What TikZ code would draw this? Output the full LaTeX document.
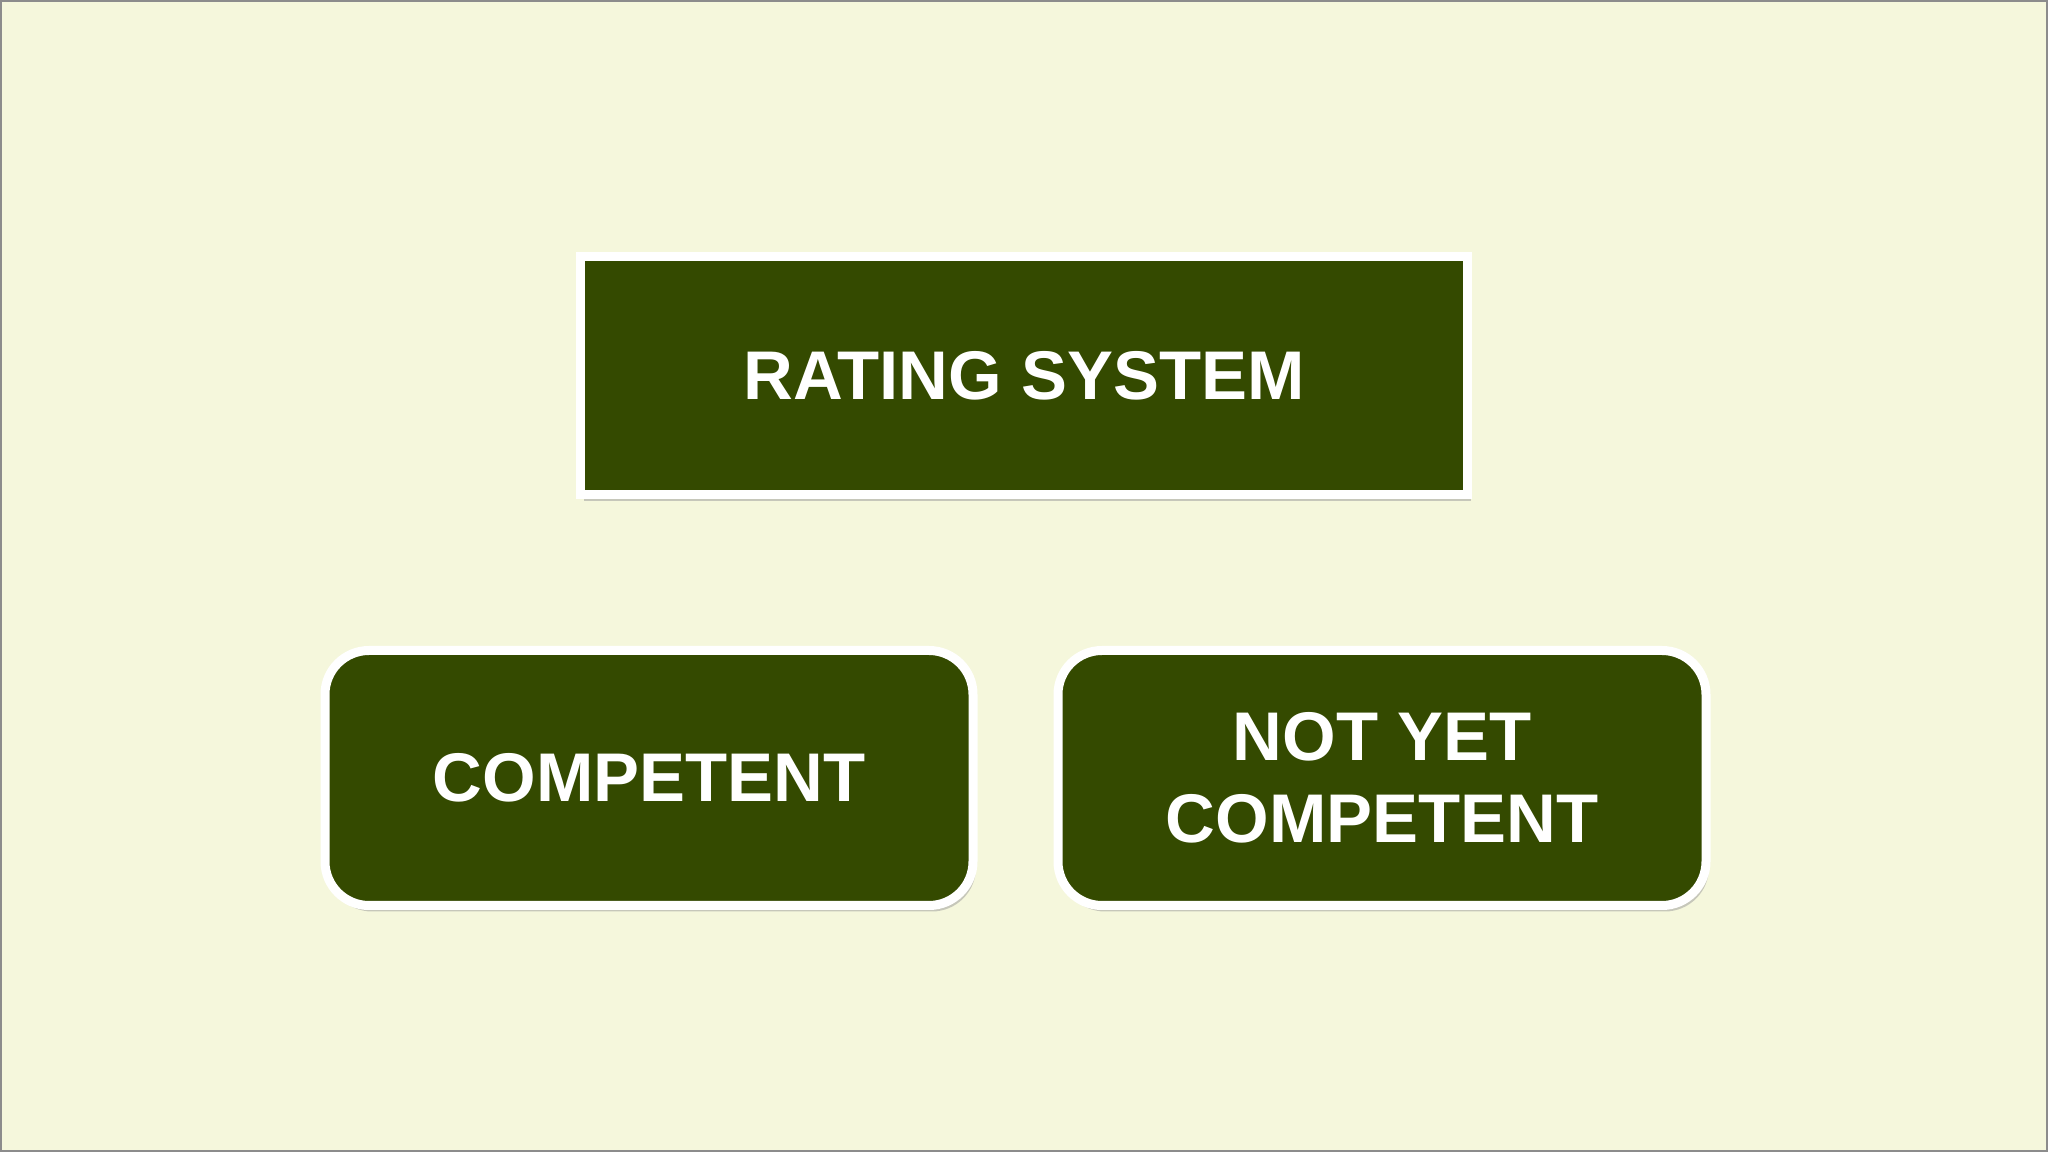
\documentclass[tikz,border=0pt]{standalone}
\usepackage{fontspec}
\setmainfont{Liberation Sans}
\usetikzlibrary{shadows}
\definecolor{bgcream}{RGB}{245,247,220}
\definecolor{leafgreen}{RGB}{52,74,0}
\tikzstyle{tile} = [draw=white, line width=0.09cm, fill=leafgreen, text=white, inner sep=0pt,
  font=\bfseries\fontsize{19.6pt}{23.5pt}\selectfont, align=center,
  drop shadow={shadow xshift=0.03cm, shadow yshift=-0.06cm, opacity=0.5, fill=black!40}]
\begin{document}
\begin{tikzpicture}[head/.style={tile, minimum width=8.87cm, minimum height=2.38cm},
			leaf/.style={tile, rounded corners=0.44cm, minimum width=6.48cm, minimum height=2.55cm}]
			\fill[bgcream] (0,0) rectangle (20.48,11.52);
			\draw[black!45, line width=0.02cm] (0.01,0.01) rectangle (20.47,11.51);
			\node (rating) [head] at (10.24,7.76) {RATING SYSTEM};
			\node (comp) [leaf] at (6.49,3.74) {COMPETENT};
			\node (notyet) [leaf] at (13.82,3.74) {NOT YET\\COMPETENT};
		\end{tikzpicture}
\end{document}
